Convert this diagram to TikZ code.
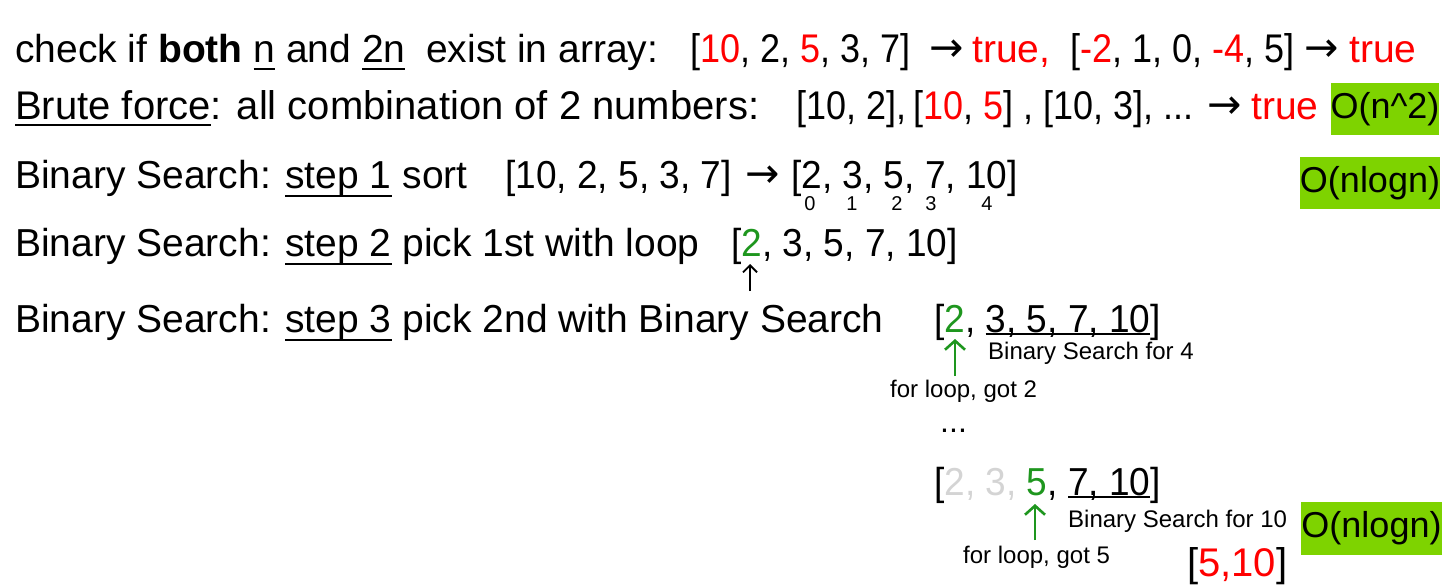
\documentclass[tikz,border=0pt]{standalone}
\usepackage{fontspec}
\usetikzlibrary{arrows.meta}
\setmainfont{Liberation Sans}
\newfontfamily\cond[FakeStretch=0.9]{Liberation Sans}
\newfontfamily\semi[FakeStretch=0.95]{Liberation Sans}
\newfontfamily\arrowfont{DejaVu Sans}
\definecolor{myred}{RGB}{255,0,0}
\definecolor{mygreen}{RGB}{30,150,30}
\definecolor{boxgreen}{RGB}{126,211,0}
\definecolor{lgray}{RGB}{212,212,212}
\newcommand\R[1]{\textcolor{myred}{#1}}
\newcommand\G[1]{\textcolor{mygreen}{#1}}
\newcommand\Lg[1]{\textcolor{lgray}{#1}}
\newcommand\ra{{\arrowfont\fontsize{41}{46}\selectfont →}}
\newsavebox\ulbox
\newcommand\ulx[2]{\sbox\ulbox{#2}\rlap{\rule[-#1]{\wd\ulbox}{1.8pt}}\usebox\ulbox}
\tikzset{
  big/.style={anchor=base west, inner sep=0pt, font=\fontsize{39}{44}\selectfont},
  bigc/.style={anchor=base west, inner sep=0pt, font=\cond\fontsize{40}{44}\selectfont},
  bigs/.style={anchor=base west, inner sep=0pt, font=\semi\fontsize{39}{44}\selectfont},
  arr/.style={anchor=base west, inner sep=0pt},
  small/.style={anchor=base west, inner sep=0pt, font=\fontsize{24}{28}\selectfont},
  idx/.style={anchor=base, inner sep=0pt, font=\fontsize{20}{22}\selectfont},
  cbox/.style={fill=boxgreen, inner sep=0pt, font=\fontsize{36}{40}\selectfont},
  garrow/.style={draw=mygreen, line width=2.6pt, -{Straight Barb[length=9pt,width=20pt,line width=2.6pt]}},
  karrow/.style={draw=black, line width=1.8pt, -{Straight Barb[length=7pt,width=14pt,line width=1.8pt]}}
}
\begin{document}
\begin{tikzpicture}[x=1pt,y=-1pt]
\useasboundingbox (0,0) rectangle (1450,586);
% line 1
\node[big] (l1a) at (15,63) {check if \textbf{both} \ulx{7pt}{n} and \ulx{7pt}{2n}\hspace{10pt} exist in array:};
\node[bigc] (l1b) at (690,63) {[\R{10}, 2, \R{5}, 3, 7]};
\node[arr] (l1r1) at (929,62) {\ra};
\node[big] (l1t1) at (972,63) {\R{true,}};
\node[bigc] (l1c) at (1070,63) {[\R{-2}, 1, 0, \R{-4}, 5]};
\node[arr] (l1r2) at (1304,62) {\ra};
\node[big] (l1t2) at (1349,63) {\R{true}};
% line 2
\node[big, font=\fontsize{40}{44}\selectfont] (l2a) at (15,119) {\ulx{7pt}{Brute force}: all combination of 2 numbers:};
\node[bigc] (l2b) at (796,119) {[10, 2],};
\node[bigc] (l2c) at (913,119) {[\R{10}, \R{5}] , [10, 3], ...};
\node[arr] (l2r) at (1207,118) {\ra};
\node[big] (l2d) at (1251,119) {\R{true}};
\node[cbox, minimum width=106pt, minimum height=52pt] (box1) at (1385,109) {O(n\textasciicircum 2)};
% line 3
\node[big] (l3a) at (15,188) {Binary Search: \ulx{9pt}{step 1} sort};
\node[bigs] (l3b) at (505,188) {[10, 2, 5, 3, 7]};
\node[arr] (l3c) at (745,187) {\ra};
\node[bigs] (l3d) at (791,188) {[2, 3, 5, 7, 10]};
\node[idx] (i0) at (810,210) {0};
\node[idx] (i1) at (852,210) {1};
\node[idx] (i2) at (897,210) {2};
\node[idx] (i3) at (931,210) {3};
\node[idx] (i4) at (987,210) {4};
\node[cbox, minimum width=140pt, minimum height=52pt] (box2) at (1370,183) {O(nlogn)};
% line 4
\node[big] (l4a) at (15,256) {Binary Search: \ulx{9pt}{step 2} pick 1st with loop};
\node[bigs] (l4b) at (731,256) {[\G{2}, 3, 5, 7, 10]};
\coordinate (a4top) at (750,264);
\coordinate (a4bot) at (750,291);
\draw[karrow] (a4bot) -- (a4top);
% line 5
\node[big] (l5a) at (15,332) {Binary Search: \ulx{9pt}{step 3} pick 2nd with Binary Search};
\node[bigs] (l5b) at (934,332) {[\G{2}, \ulx{3pt}{3, 5, 7, 10}]};
\coordinate (a5top) at (955,339);
\coordinate (a5bot) at (955,376);
\draw[garrow] (a5bot) -- (a5top);
\node[small] (bs4) at (988,359) {Binary Search for 4};
\node[small] (fl2) at (890,397) {for loop, got 2};
\node[anchor=base west, inner sep=0pt, font=\fontsize{32}{36}\selectfont] (dots) at (940,432) {...};
% line 6
\node[bigs] (l6a) at (934,495) {[\Lg{2, 3,} \G{5}, \ulx{3pt}{7, 10}]};
\coordinate (a6top) at (1035,504);
\coordinate (a6bot) at (1035,540);
\draw[garrow] (a6bot) -- (a6top);
\node[small] (bs10) at (1068,527) {Binary Search for 10};
\node[small] (fl5) at (963,563) {for loop, got 5};
\node[anchor=base west, inner sep=0pt, font=\fontsize{40}{44}\selectfont] (res) at (1187,576) {[\R{5,10}]};
\node[cbox, minimum width=137pt, minimum height=53pt] (box3) at (1371.5,528.5) {O(nlogn)};
\end{tikzpicture}
\end{document}
